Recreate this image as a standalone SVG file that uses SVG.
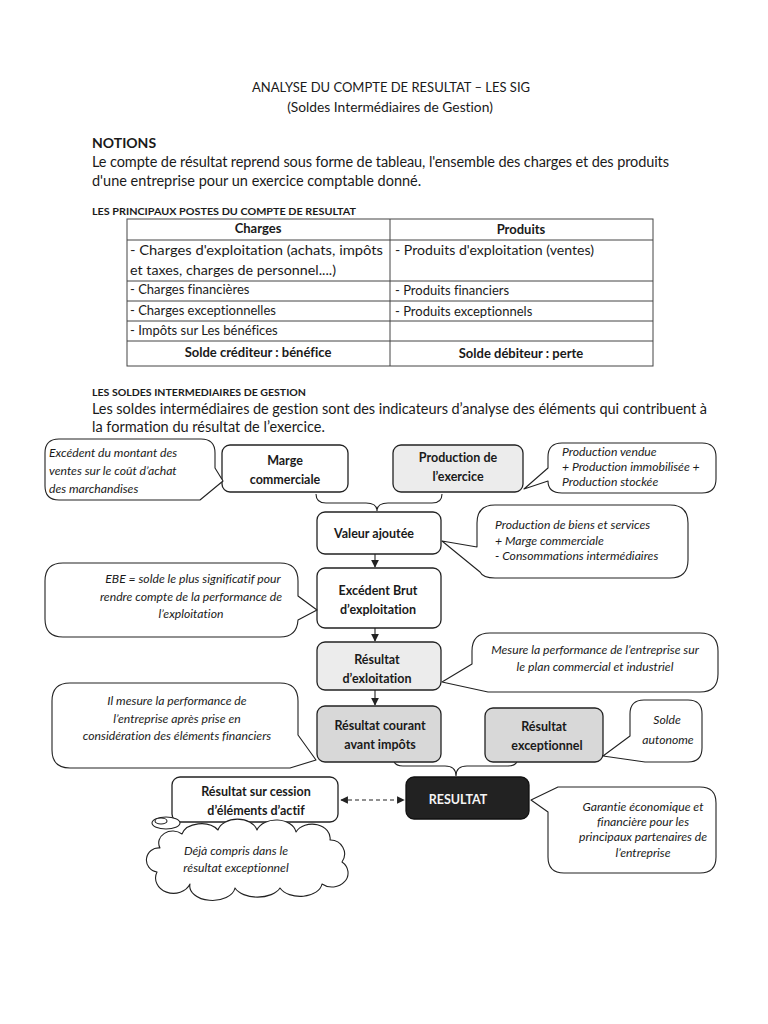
<svg xmlns="http://www.w3.org/2000/svg" width="768" height="1024" viewBox="0 0 768 1024">
<defs>
<style>
text{font-family:Lato,"Open Sans","Liberation Sans",sans-serif;fill:#1a1a1a;font-variant-ligatures:none;font-feature-settings:"liga" 0,"clig" 0}
.t{font-size:13px}
.t2{font-size:13.8px}
.p{font-size:14.5px}
.h{font-size:14px;font-weight:bold}
.s{font-size:9.5px;font-weight:bold}
.c{font-size:13px}
.cb{font-size:13px;font-weight:bold}
.b{font-size:12.5px;font-weight:bold}
.i{font-size:12.2px;font-style:italic}
.box{fill:#fff;stroke:#222;stroke-width:1.3}
.g1{fill:#ececec;stroke:#222;stroke-width:1.3}
.g2{fill:#d8d8d8;stroke:#222;stroke-width:1.3}
.bub{fill:#fff;stroke:#222;stroke-width:1.1;stroke-linejoin:round}
.ln{fill:none;stroke:#222;stroke-width:1.1}
.tb{fill:none;stroke:#444;stroke-width:1}
</style>
<marker id="ar" viewBox="0 0 10 10" refX="9" refY="5" markerWidth="7" markerHeight="7" orient="auto-start-reverse">
<path d="M0,0 L10,5 L0,10 Z" fill="#222"/>
</marker>
</defs>
<rect width="768" height="1024" fill="#fff"/>

<g id="header">
<text class="t" x="391" y="92" text-anchor="middle">ANALYSE DU COMPTE DE RESULTAT – LES SIG</text>
<text class="t2" x="390" y="112" text-anchor="middle">(Soldes Intermédiaires de Gestion)</text>
<text class="h" x="92" y="148">NOTIONS</text>
<text class="p" x="92" y="167" textLength="577" lengthAdjust="spacing">Le compte de résultat reprend sous forme de tableau, l'ensemble des charges et des produits</text>
<text class="p" x="92" y="186">d'une entreprise pour un exercice comptable donné.</text>
<text class="s" x="92" y="215" textLength="264" lengthAdjust="spacingAndGlyphs">LES PRINCIPAUX POSTES DU COMPTE DE RESULTAT</text>
</g>

<g id="table">
<rect class="tb" x="127" y="219" width="526" height="147"/>
<line class="tb" x1="390" y1="219" x2="390" y2="366"/>
<line class="tb" x1="127" y1="240" x2="653" y2="240"/>
<line class="tb" x1="127" y1="281" x2="653" y2="281"/>
<line class="tb" x1="127" y1="301" x2="653" y2="301"/>
<line class="tb" x1="127" y1="321" x2="653" y2="321"/>
<line class="tb" x1="127" y1="341" x2="653" y2="341"/>
<text class="cb" x="258" y="233" text-anchor="middle">Charges</text>
<text class="cb" x="521" y="234" text-anchor="middle">Produits</text>
<text class="c" x="130" y="255" textLength="253" lengthAdjust="spacingAndGlyphs">- Charges d'exploitation (achats, impôts</text>
<text class="c" x="130" y="275" textLength="206" lengthAdjust="spacingAndGlyphs">et taxes, charges de personnel....)</text>
<text class="c" x="395" y="255" textLength="199" lengthAdjust="spacingAndGlyphs">- Produits d'exploitation (ventes)</text>
<text class="c" x="130" y="294">- Charges financières</text>
<text class="c" x="395" y="295">- Produits financiers</text>
<text class="c" x="130" y="315">- Charges exceptionnelles</text>
<text class="c" x="395" y="316">- Produits exceptionnels</text>
<text class="c" x="130" y="335">- Impôts sur Les bénéfices</text>
<text class="cb" x="258" y="357" text-anchor="middle">Solde créditeur : bénéfice</text>
<text class="cb" x="521" y="358" text-anchor="middle">Solde débiteur : perte</text>
</g>

<g id="intro-sig">
<text class="s" x="92" y="396" textLength="214" lengthAdjust="spacingAndGlyphs">LES SOLDES INTERMEDIAIRES DE GESTION</text>
<text class="p" x="92" y="414" textLength="615" lengthAdjust="spacing">Les soldes intermédiaires de gestion sont des indicateurs d’analyse des éléments qui contribuent à</text>
<text class="p" x="92" y="432">la formation du résultat de l’exercice.</text>
</g>

<g id="connectors">
<path class="ln" d="M316,494 Q316,503 326,503 H366 Q377,503 377,511 Q377,503 388,503 H432 Q442,503 442,494"/>
<line class="ln" x1="375" y1="554" x2="375" y2="567" marker-end="url(#ar)"/>
<line class="ln" x1="375" y1="628" x2="375" y2="641" marker-end="url(#ar)"/>
<line class="ln" x1="375" y1="690" x2="375" y2="705" marker-end="url(#ar)"/>
<path class="ln" d="M393,757 Q393,766 403,766 H445 Q456,766 456,776 Q456,766 467,766 H508 Q518,766 518,757"/>
<line class="ln" x1="341" y1="800" x2="404" y2="800" stroke-dasharray="4 3" marker-start="url(#ar)" marker-end="url(#ar)"/>
</g>

<g id="marge">
<rect class="box" x="222" y="445" width="126" height="47" rx="8"/>
<text class="b" x="285" y="465" text-anchor="middle">Marge</text>
<text class="b" x="285" y="484" text-anchor="middle">commerciale</text>
</g>
<g id="production">
<rect class="g1" x="393" y="445" width="130" height="47" rx="8"/>
<text class="b" x="458" y="462" text-anchor="middle">Production de</text>
<text class="b" x="458" y="481" text-anchor="middle">l’exercice</text>
</g>
<g id="valeur-ajoutee">
<rect class="box" x="317" y="512" width="124" height="42" rx="8"/>
<text class="b" x="374" y="538" text-anchor="middle">Valeur ajoutée</text>
</g>
<g id="ebe">
<rect class="box" x="317" y="568" width="124" height="60" rx="8"/>
<text class="b" x="378" y="595" text-anchor="middle">Excédent Brut</text>
<text class="b" x="378" y="614" text-anchor="middle">d’exploitation</text>
</g>
<g id="resultat-exploitation">
<rect class="g1" x="317" y="642" width="124" height="48" rx="8"/>
<text class="b" x="377" y="664" text-anchor="middle">Résultat</text>
<text class="b" x="377" y="683" text-anchor="middle">d’exloitation</text>
</g>
<g id="resultat-courant">
<rect class="g2" x="317" y="706" width="124" height="56" rx="8"/>
<text class="b" x="380" y="730" text-anchor="middle">Résultat courant</text>
<text class="b" x="380" y="749" text-anchor="middle">avant impôts</text>
</g>
<g id="resultat-exceptionnel">
<rect class="g2" x="485" y="708" width="118" height="54" rx="8"/>
<text class="b" x="544" y="731" text-anchor="middle">Résultat</text>
<text class="b" x="547" y="750" text-anchor="middle">exceptionnel</text>
</g>
<g id="resultat">
<rect x="406" y="777" width="123" height="42" rx="8" fill="#222" stroke="#111" stroke-width="1.3"/>
<text class="b" x="458" y="804" text-anchor="middle" style="fill:#f4f4f4">RESULTAT</text>
</g>
<g id="cession">
<rect class="box" x="172" y="777" width="166" height="45" rx="8"/>
<text class="b" x="256" y="796" text-anchor="middle">Résultat sur cession</text>
<text class="b" x="256" y="815" text-anchor="middle">d’éléments d’actif</text>
</g>

<g id="note-marge">
<path class="bub" d="M59,439 H201 Q215,439 215,453 V468 L223,481 L200,500 H59 Q45,500 45,486 V453 Q45,439 59,439 Z"/>
<text class="i" x="49" y="457">Excédent du montant des</text>
<text class="i" x="49" y="475">ventes sur le coût d’achat</text>
<text class="i" x="49" y="493">des marchandises</text>
</g>
<g id="note-production">
<path class="bub" d="M562,443 H702 Q716,443 716,457 V479 Q716,493 702,493 H562 Q548,493 548,481 L524,489 L548,468 V457 Q548,443 562,443 Z"/>
<text class="i" x="562" y="456">Production vendue</text>
<text class="i" x="562" y="471">+ Production immobilisée +</text>
<text class="i" x="562" y="486">Production stockée</text>
</g>
<g id="note-va">
<path class="bub" d="M495,505 H670 Q688,505 688,523 V560 Q688,578 670,578 H495 Q483,578 480,572 L442,541 L477,547 V523 Q477,505 495,505 Z"/>
<text class="i" x="495" y="529">Production de biens et services</text>
<text class="i" x="495" y="545">+ Marge commerciale</text>
<text class="i" x="495" y="560"> - Consommations intermédiaires</text>
</g>
<g id="note-ebe">
<path class="bub" d="M63,563 H280 Q298,563 298,581 V596 L317,610 L298,620 Q297,637 280,637 H63 Q45,637 45,619 V581 Q45,563 63,563 Z"/>
<text class="i" x="193" y="583" text-anchor="middle">EBE = solde le plus significatif pour</text>
<text class="i" x="191" y="601" text-anchor="middle">rendre compte de la performance de</text>
<text class="i" x="191" y="618" text-anchor="middle">l’exploitation</text>
</g>
<g id="note-rex">
<path class="bub" d="M490,633 H700 Q718,633 718,651 V674 Q718,692 700,692 H488 L442,682 L472,664 V651 Q472,633 490,633 Z"/>
<text class="i" x="595" y="654" text-anchor="middle">Mesure la performance de l’entreprise sur</text>
<text class="i" x="595" y="671" text-anchor="middle">le plan commercial et industriel</text>
</g>
<g id="note-rcai">
<path class="bub" d="M70,683 H280 Q298,683 298,701 V735 L316,760 L290,768 H70 Q52,768 52,750 V701 Q52,683 70,683 Z"/>
<text class="i" x="177" y="705" text-anchor="middle">Il mesure la performance de</text>
<text class="i" x="177" y="723" text-anchor="middle">l’entreprise après prise en</text>
<text class="i" x="177" y="740" text-anchor="middle">considération des éléments financiers</text>
</g>
<g id="note-autonome">
<path class="bub" d="M644,700 H688 Q702,700 702,714 V748 Q702,762 688,762 H645 L603,756 L630,736 V714 Q630,700 644,700 Z"/>
<text class="i" x="667" y="724" text-anchor="middle">Solde</text>
<text class="i" x="668" y="744" text-anchor="middle">autonome</text>
</g>
<g id="note-resultat">
<path class="bub" d="M565,787 H700 Q716,787 716,803 V857 Q716,873 700,873 H564 Q548,873 548,857 V812 L531,800 L558,787 Z"/>
<text class="i" x="643" y="811" text-anchor="middle">Garantie économique et</text>
<text class="i" x="643" y="826" text-anchor="middle">financière pour les</text>
<text class="i" x="643" y="841" text-anchor="middle">principaux partenaires de</text>
<text class="i" x="643" y="857" text-anchor="middle">l’entreprise</text>
</g>
<g id="note-cession">
<ellipse class="bub" cx="166" cy="823" rx="14" ry="6"/>
<ellipse class="bub" cx="161" cy="821" rx="6" ry="3"/>
<path class="bub" d="M160,848 A14 12 0 0 1 182 834 A20 14 0 0 1 218 830 A20 14 0 0 1 257 830 A20 14 0 0 1 296 832 A18 14 0 0 1 330 840 A14 14 0 0 1 342 862 A16 14 0 0 1 322 884 A22 14 0 0 1 280 888 A24 14 0 0 1 235 888 A22 14 0 0 1 190 884 A14 12 0 0 1 157 872 A12 12 0 0 1 160 848 Z"/>
<text class="i" x="236" y="855" text-anchor="middle">Déjà compris dans le</text>
<text class="i" x="236" y="872" text-anchor="middle">résultat exceptionnel</text>
</g>
</svg>
